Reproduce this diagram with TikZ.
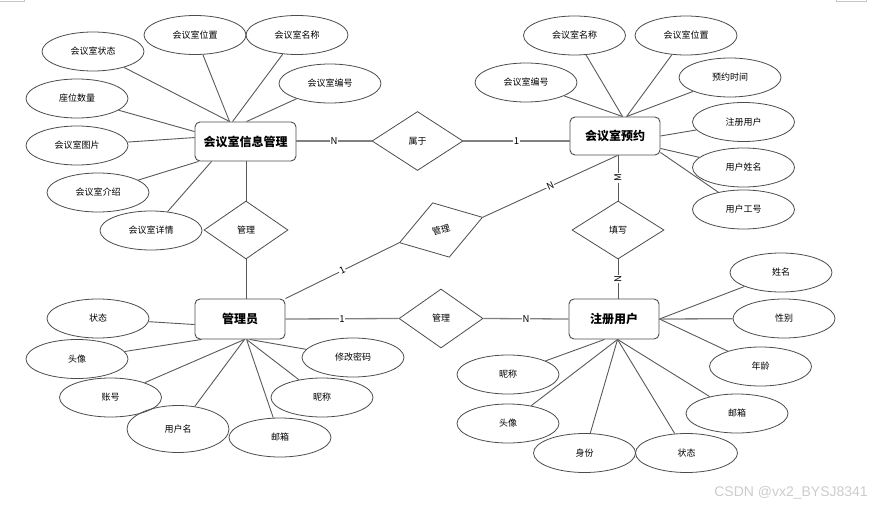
\documentclass[tikz,border=0pt]{standalone}
\usepackage{fontspec}
\setmainfont{Noto Sans CJK SC}
\newfontfamily\wmfont{Liberation Sans}
\usetikzlibrary{shapes.geometric}
\begin{document}
\begin{tikzpicture}[x=1pt,y=-1pt,
  conn/.style={draw=black!65, line width=0.9pt},
  hconn/.style={draw=black!50, line width=1.3pt},
  attr/.style={ellipse, draw=black!70, line width=0.8pt, minimum width=102pt, minimum height=39pt, inner sep=0pt, font=\fontsize{9}{10}\selectfont},
  ent/.style={rectangle, draw=black!70, line width=0.9pt, rounded corners=5pt, minimum width=90pt, minimum height=39pt, inner sep=0pt, font=\fontsize{12}{14}\selectfont\bfseries},
  rel/.style={diamond, draw=black!70, line width=0.8pt, minimum width=88pt, minimum height=58pt, inner sep=0pt, font=\fontsize{9}{10}\selectfont},
  card/.style={fill=white, inner sep=0.8pt, font=\fontsize{9.5}{10}\selectfont},
]
\useasboundingbox (0,0) rectangle (872,508);
\draw[gray!45, line width=0.6pt] (0,1.6) -- (24,1.6) -- (24,0);
\draw[gray!45, line width=0.6pt] (836,0) -- (836,1.6) -- (866,1.6) -- (866,0);

% entities
\node[ent, minimum width=101pt] (m) at (245.5,141.5) {会议室信息管理};
\node[ent, minimum height=38pt] (r) at (615,136) {会议室预约};
\node[ent, minimum height=40pt] (a) at (240,319) {管理员};
\node[ent, minimum height=40pt] (u) at (614,319) {注册用户};

% relations
\node[rel, minimum width=91pt, minimum height=59pt] (s) at (417.5,141) {属于};
\node[rel, minimum width=84pt] (d1) at (246,230) {管理};
\node[rel, minimum width=87pt, minimum height=57pt, rotate=17] (d2) at (441,230) {管理};
\node[rel, minimum width=84pt, minimum height=59pt] (d3) at (441,318.5) {管理};
\node[rel, minimum width=92pt] (t) at (618,230) {填写};

% attributes of m
\node[attr] (m1) at (93,51.5) {会议室状态};
\node[attr] (m2) at (195,35) {会议室位置};
\node[attr] (m3) at (297,35) {会议室名称};
\node[attr] (m4) at (330,83.5) {会议室编号};
\node[attr] (m5) at (77,98.5) {座位数量};
\node[attr] (m6) at (77,145.5) {会议室图片};
\node[attr] (m7) at (98,192.5) {会议室介绍};
\node[attr] (m8) at (151,230.5) {会议室详情};

% attributes of r
\node[attr] (r1) at (574.5,35.5) {会议室名称};
\node[attr] (r2) at (686,35.5) {会议室位置};
\node[attr] (r3) at (526,82.5) {会议室编号};
\node[attr] (r4) at (730,77.5) {预约时间};
\node[attr] (r5) at (743.5,122) {注册用户};
\node[attr] (r6) at (743.5,167.5) {用户姓名};
\node[attr] (r7) at (743.5,209.5) {用户工号};

% attributes of a
\node[attr] (a1) at (98,318.5) {状态};
\node[attr] (a2) at (77,359) {头像};
\node[attr] (a3) at (110.5,397.5) {账号};
\node[attr, minimum height=47pt] (a4) at (178,429) {用户名};
\node[attr] (a5) at (280,437.5) {邮箱};
\node[attr] (a6) at (322,397.5) {昵称};
\node[attr] (a7) at (353,357.5) {修改密码};

% attributes of u
\node[attr] (u1) at (781,272.5) {姓名};
\node[attr] (u2) at (784,318.5) {性别};
\node[attr] (u3) at (760.5,366.5) {年龄};
\node[attr] (u4) at (737,413.5) {邮箱};
\node[attr] (u5) at (686.5,453) {状态};
\node[attr] (u6) at (584.5,453) {身份};
\node[attr] (u7) at (508,423.5) {头像};
\node[attr] (u8) at (508,374.5) {昵称};

% attribute connectors m
\draw[conn] (m1) -- ([xshift=35pt]m.north west);
\draw[conn] (m2) -- ([xshift=35pt]m.north west);
\draw[conn] (m3) -- ([xshift=38pt]m.north west);
\draw[conn] (m4) -- ([xshift=52pt]m.north west);
\draw[conn] (m5) -- ([yshift=-10pt]m.north west);
\draw[conn] (m6) -- ([yshift=-16pt]m.north west);
\draw[conn] (m7) -- ([xshift=4pt]m.south west);
\draw[conn] (m8) -- ([xshift=17pt]m.south west);

% attribute connectors r
\draw[conn] (r1) -- ([xshift=53pt]r.north west);
\draw[conn] (r2) -- ([xshift=57pt]r.north west);
\draw[conn] (r3) -- ([xshift=53pt]r.north west);
\draw[conn] (r4) -- ([xshift=57pt]r.north west);
\draw[conn] (r5) -- (r.east);
\draw[conn] (r6) -- ([yshift=7pt]r.south east);
\draw[conn] (r7) -- ([yshift=3pt]r.south east);

% attribute connectors a
\draw[conn] (a1) -- ([yshift=-26pt]a.north west);
\draw[conn] (a2) -- ([xshift=7pt]a.south west);
\draw[conn] (a3) -- ([xshift=50pt]a.south west);
\draw[conn] (a4) -- ([xshift=50pt]a.south west);
\draw[conn] (a5) -- ([xshift=52pt]a.south west);
\draw[conn] (a6) -- ([xshift=52pt]a.south west);
\draw[conn] (a7) -- ([xshift=55pt]a.south west);

% attribute connectors u
\draw[conn] (u1) -- (u.east);
\draw[hconn] (u2) -- (u.east);
\draw[conn] (u3) -- (u.east);
\draw[conn] (u4) -- ([xshift=49pt]u.south west);
\draw[conn] (u5) -- ([xshift=49pt]u.south west);
\draw[conn] (u6) -- ([xshift=49pt]u.south west);
\draw[conn] (u7) -- ([xshift=49pt]u.south west);
\draw[conn] (u8) -- ([xshift=36pt]u.south west);

% relationship connectors
\draw[hconn] (m.east |- s.west) -- node[card] {N} (s.west);
\draw[hconn] (s.east) -- node[card] {1} (s.east -| r.west);
\draw[conn] (d1.north |- m.south) -- (d1.north);
\draw[conn] (d1.south) -- (d1.south |- a.north);
\draw[conn] (a.north east) -- node[card, sloped] {1} (d2.west);
\draw[conn] (d2.east) -- node[card, sloped] {N} ([xshift=48pt]r.south west);
\draw[conn] (t.north |- r.south) -- node[card, rotate=90] {M} (t.north);
\draw[conn] (t.south) -- node[card, rotate=90] {N} (t.south |- u.north);
\draw[hconn] (a.east) -- node[card] {1} (d3.west);
\draw[hconn] (d3.east) -- node[card] {N} (u.west);

% watermark
\node[anchor=east, text=gray!40, font=\wmfont\fontsize{14}{16}\selectfont, inner sep=0pt] (wm) at (868,493) {CSDN @vx2\_BYSJ8341};
\end{tikzpicture}
\end{document}
